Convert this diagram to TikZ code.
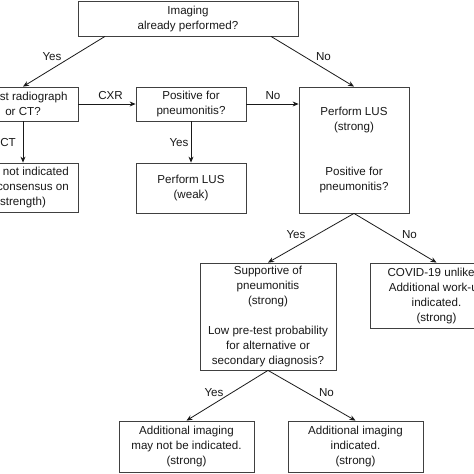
\documentclass[tikz,border=0pt]{standalone}
\usepackage{fontspec}
\setmainfont{Liberation Sans}
\usetikzlibrary{shadows,arrows.meta}
\begin{document}
\begin{tikzpicture}[x=1pt,y=-1pt,
  txt/.style={font=\fontsize{11.6}{15}\selectfont, text=black!90},
  box/.style={txt, draw=black!75, line width=0.8pt, fill=white, rectangle, inner sep=0pt, align=center,
    drop shadow={shadow xshift=0.4pt, shadow yshift=-1.4pt, fill=black!45, opacity=1}},
  lbl/.style={txt, inner sep=0pt},
  arr/.style={line width=0.8pt, draw=black!90, -{Stealth[length=6pt,width=5pt]}}]
\useasboundingbox (0,0) rectangle (474,474);
\clip (0,0) rectangle (474,474);
\fill[white] (0,0) rectangle (474,474);
\node[box, minimum width=220pt, minimum height=35pt] (top) at (188,18.5) {Imaging\\already performed?};
\node[box, minimum width=110pt, minimum height=34pt] (chest) at (23,104) {Chest radiograph\\or CT?};
\node[box, minimum width=110pt, minimum height=34pt] (pos) at (191,104) {Positive for\\pneumonitis?};
\node[box, minimum width=110pt, minimum height=126pt] (lus) at (354,150) {Perform LUS\\(strong)\\[30pt]Positive for\\pneumonitis?};
\node[box, minimum width=110pt, minimum height=49pt] (notind) at (23,187.5) {LUS not indicated\\(no consensus on\\strength)};
\node[box, minimum width=110pt, minimum height=50pt] (weak) at (191,188) {Perform LUS\\(weak)};
\node[box, minimum width=136pt, minimum height=107pt] (supp) at (268,316.5) {Supportive of\\pneumonitis\\(strong)\\[15pt]Low pre-test probability\\for alternative or\\secondary diagnosis?};
\node[box, minimum width=133pt, minimum height=65pt] (covid) at (436.5,295.5) {COVID-19 unlikely.\\Additional work-up\\indicated.\\(strong)};
\node[box, minimum width=135pt, minimum height=51pt] (maybe) at (186.5,446.5) {Additional imaging\\may not be indicated.\\(strong)};
\node[box, minimum width=135pt, minimum height=51pt] (addimg) at (355.5,446.5) {Additional imaging\\indicated.\\(strong)};
\draw[arr] ([xshift=-83pt]top.south) -- (chest.north);
\draw[arr] ([xshift=83pt]top.south) -- (lus.north);
\draw[arr] (chest.east) -- (pos.west);
\draw[arr] (pos.east) -- (pos.east -| lus.west);
\draw[arr] (chest.south) -- (notind.north);
\draw[arr] (pos.south) -- (weak.north);
\draw[arr] (lus.south) -- (supp.north);
\draw[arr] (lus.south) -- (covid.north);
\draw[arr] (supp.south) -- (maybe.north);
\draw[arr] (supp.south) -- (addimg.north);
\node[lbl] (l1) at (52,57) {Yes};
\node[lbl] (l2) at (323.5,57) {No};
\node[lbl] (l3) at (110.5,96) {CXR};
\node[lbl] (l4) at (273,96) {No};
\node[lbl] (l5) at (8,143) {CT};
\node[lbl] (l6) at (179,143) {Yes};
\node[lbl] (l7) at (296,235) {Yes};
\node[lbl] (l8) at (409.5,235) {No};
\node[lbl] (l9) at (214,393) {Yes};
\node[lbl] (l10) at (326.5,393) {No};
\end{tikzpicture}
\end{document}
